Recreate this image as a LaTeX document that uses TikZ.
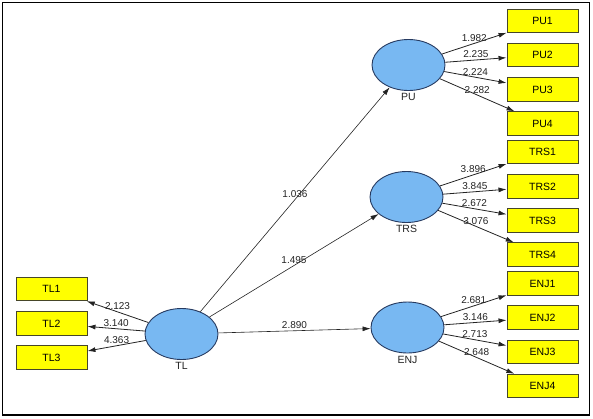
\documentclass[tikz,border=0pt]{standalone}
\usepackage{fontspec}
\setmainfont{Liberation Sans}
\usepackage{xcolor}
\usetikzlibrary{arrows.meta,positioning,shapes.geometric}
\definecolor{SemBlue}{RGB}{120,184,242}
\definecolor{SemNavy}{RGB}{38,58,96}
\definecolor{SemYellow}{RGB}{255,255,0}
\definecolor{SemOlive}{RGB}{70,70,40}
\definecolor{SemLine}{RGB}{35,35,35}
\tikzset{
  latent/.style={ellipse, draw=SemNavy, fill=SemBlue, line width=0.9pt,
                 minimum width=73pt, minimum height=51pt, inner sep=0pt},
  latlab/.style={font=\fontsize{10.5}{12}\selectfont, text=SemLine, inner sep=0.5pt},
  indbox/.style={draw=SemOlive, fill=SemYellow, line width=0.9pt,
                 minimum width=71pt, minimum height=23.5pt, inner sep=0pt,
                 font=\fontsize{10.5}{12}\selectfont},
  loadarr/.style={draw=SemLine, line width=0.8pt, -{Latex[length=8pt,width=5pt]}},
  pathval/.style={above, inner sep=1.5pt, font=\fontsize{10}{12}\selectfont, text=SemLine}
}

\begin{document}
\begin{tikzpicture}[x=1pt, y=-1pt]
  \useasboundingbox (0,0) rectangle (593,418);
  \draw[line width=1.6pt] (2.5,2.5) rectangle (589.5,415);

  % latent variables
  \node[latent] (TL)  at (181.5,334)  {};
  \node[latent] (PU)  at (408.5,65)   {};
  \node[latent] (TRS) at (406.5,197)  {};
  \node[latent] (ENJ) at (407.5,327.5) {};
  \node[latlab, below=2pt of TL]  (TLlab)  {TL};
  \node[latlab, below=2pt of PU]  (PUlab)  {PU};
  \node[latlab, below=2pt of TRS] (TRSlab) {TRS};
  \node[latlab, below=2pt of ENJ] (ENJlab) {ENJ};

  % indicators
  \node[indbox] (TL1) at (51.5,289)   {TL1};
  \node[indbox] (TL2) at (51.5,323.5) {TL2};
  \node[indbox] (TL3) at (51.5,357.5) {TL3};
  \node[indbox] (PU1) at (542.5,21)   {PU1};
  \node[indbox] (PU2) at (542.5,55)   {PU2};
  \node[indbox] (PU3) at (542.5,89.5) {PU3};
  \node[indbox] (PU4) at (542.5,123.5) {PU4};
  \node[indbox] (TRS1) at (542.5,152)   {TRS1};
  \node[indbox] (TRS2) at (542.5,186.5) {TRS2};
  \node[indbox] (TRS3) at (542.5,220.5) {TRS3};
  \node[indbox] (TRS4) at (542.5,254.5) {TRS4};
  \node[indbox] (ENJ1) at (542.5,283.5) {ENJ1};
  \node[indbox] (ENJ2) at (542.5,317.5) {ENJ2};
  \node[indbox] (ENJ3) at (542.5,352)   {ENJ3};
  \node[indbox] (ENJ4) at (542.5,386)   {ENJ4};

  % structural paths
  \draw[loadarr, line width=0.6pt] (TL) -- node[pathval] {1.036} (PU);
  \draw[loadarr, line width=0.6pt] (TL) -- node[pathval] {1.495} (TRS);
  \draw[loadarr, line width=0.6pt] (TL) -- node[pathval] {2.890} (ENJ);

  % outer loadings
  \draw[loadarr] (TL) -- node[pathval] {2.123} (TL1);
  \draw[loadarr] (TL) -- node[pathval] {3.140} (TL2);
  \draw[loadarr] (TL) -- node[pathval] {4.363} (TL3);
  \draw[loadarr] (PU) -- node[pathval] {1.982} (PU1);
  \draw[loadarr] (PU) -- node[pathval] {2.235} (PU2);
  \draw[loadarr] (PU) -- node[pathval] {2.224} (PU3);
  \draw[loadarr] (PU) -- node[pathval] {2.282} (PU4);
  \draw[loadarr] (TRS) -- node[pathval] {3.896} (TRS1);
  \draw[loadarr] (TRS) -- node[pathval] {3.845} (TRS2);
  \draw[loadarr] (TRS) -- node[pathval] {2.672} (TRS3);
  \draw[loadarr] (TRS) -- node[pathval] {3.076} (TRS4);
  \draw[loadarr] (ENJ) -- node[pathval] {2.681} (ENJ1);
  \draw[loadarr] (ENJ) -- node[pathval] {3.146} (ENJ2);
  \draw[loadarr] (ENJ) -- node[pathval] {2.713} (ENJ3);
  \draw[loadarr] (ENJ) -- node[pathval] {2.648} (ENJ4);
\end{tikzpicture}
\end{document}
